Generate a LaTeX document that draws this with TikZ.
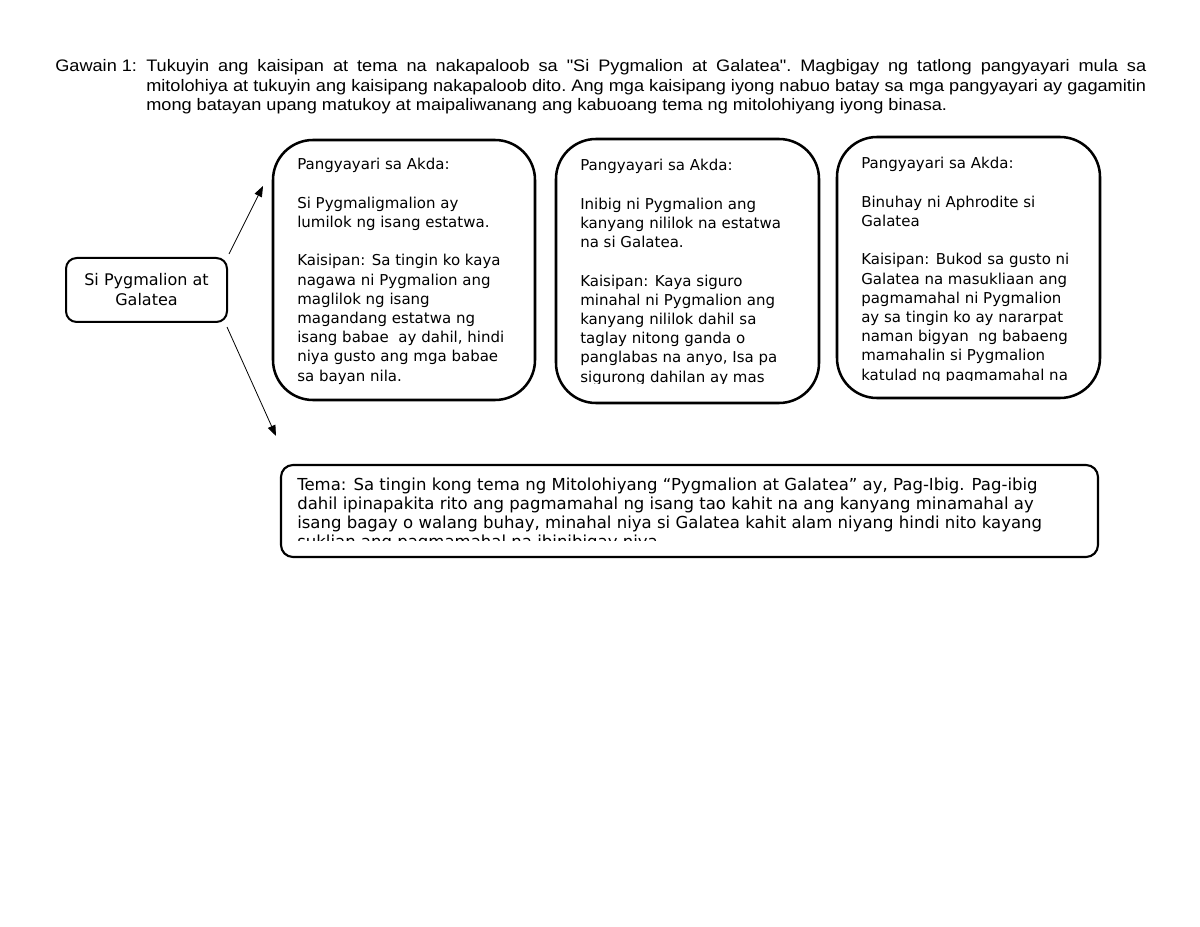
\documentclass[tikz,border=0pt]{standalone}
\usepackage{fontspec}
\usetikzlibrary{arrows.meta,calc}
\newfontfamily\hdrfont[FakeStretch=1.09]{Liberation Sans}
\newfontfamily\dvs{DejaVu Sans}
\begin{document}
\begin{tikzpicture}[x=0.75pt,y=-0.75pt,
  hdr/.style={inner sep=0pt, font=\hdrfont\fontsize{12.5}{14.6}\selectfont\frenchspacing},
  txt/.style={inner sep=0pt, font=\dvs\fontsize{11.25}{14.4}\selectfont},
  ttxt/.style={inner sep=0pt, font=\dvs\fontsize{12.4}{14.4}\selectfont},
  evbox/.style={draw, line width=1.9pt, rounded corners=30pt, inner sep=0pt},
  rootbox/.style={draw, line width=1.5pt, rounded corners=8pt, inner sep=0pt, align=center,
     font=\dvs\fontsize{12}{15}\selectfont},
  temabox/.style={draw, line width=1.6pt, rounded corners=9pt, inner sep=0pt},
  arr/.style={line width=0.6pt, -{Triangle[length=8pt,width=6pt]}}]
\fill[white] (0,0) rectangle (1200,927);
\useasboundingbox (0,0) rectangle (1200,927);

% header
\node[hdr, anchor=base west] (gw) at (55,72) {Gawain 1:};
\node[hdr, anchor=base west] (inst) at (146,72) {\parbox[t]{750pt}{Tukuyin ang kaisipan at tema na nakapaloob sa "Si Pygmalion at Galatea". Magbigay ng tatlong pangyayari mula sa\linebreak mitolohiya at tukuyin ang kaisipang nakapaloob dito. Ang mga kaisipang iyong nabuo batay sa mga pangyayari ay gagamitin\linebreak mong batayan upang matukoy at maipaliwanang ang kabuoang tema ng mitolohiyang iyong binasa.}};

% root
\node[rootbox, minimum width={161*0.75pt}, minimum height={64*0.75pt}] (root) at (146.5,290) {Si Pygmalion at\\Galatea};

% event boxes
\node[evbox, minimum width={262*0.75pt}, minimum height={260*0.75pt}] (e1) at (404,270) {};
\node[evbox, minimum width={263*0.75pt}, minimum height={264*0.75pt}] (e2) at (687.5,271) {};
\node[evbox, minimum width={263*0.75pt}, minimum height={261*0.75pt}] (e3) at (968.5,267.5) {};
\node[temabox, minimum width={817*0.75pt}, minimum height={92*0.75pt}] (tema) at (689.5,511) {};

% arrows
\coordinate (tip1) at (263,186);
\coordinate (tip2) at (276,436);
\draw[arr] (root.north east) ++(1,-3) -- (tip1);
\draw[arr] (root.south east) ++(-1,4) -- (tip2);

% texts
\node[txt, anchor=base west] (t1) at (297,170) {\parbox[t]{400pt}{\raggedright
Pangyayari sa Akda:\\[14.4pt]
Si Pygmaligmalion ay\\
lumilok ng isang estatwa.\\[14.4pt]
Kaisipan: Sa tingin ko kaya\\
nagawa ni Pygmalion ang\\
maglilok ng isang\\
magandang estatwa ng\\
isang babae\ \ ay dahil, hindi\\
niya gusto ang mga babae\\
sa bayan nila.}};

\begin{scope}
\clip (e2.north west) rectangle ([yshift=15.75pt]e2.south east);
\node[txt, anchor=base west] (t2) at (580,171) {\parbox[t]{400pt}{\raggedright
Pangyayari sa Akda:\\[14.4pt]
Inibig ni Pygmalion ang\\
kanyang nililok na estatwa\\
na si Galatea.\\[14.4pt]
Kaisipan: Kaya siguro\\
minahal ni Pygmalion ang\\
kanyang nililok dahil sa\\
taglay nitong ganda o\\
panglabas na anyo, Isa pa\\
sigurong dahilan ay mas\\
mahal niya ang kanyang gawa}};
\end{scope}

\begin{scope}
\clip (e3.north west) rectangle ([yshift=14.25pt]e3.south east);
\node[txt, anchor=base west] (t3) at (861,169) {\parbox[t]{400pt}{\raggedright
Pangyayari sa Akda:\\[14.4pt]
Binuhay ni Aphrodite si\\
Galatea\\[14.4pt]
Kaisipan: Bukod sa gusto ni\\
Galatea na masukliaan ang\\
pagmamahal ni Pygmalion\\
ay sa tingin ko ay nararpat\\
naman bigyan\ \ ng babaeng\\
mamahalin si Pygmalion\\
katulad ng pagmamahal na}};
\end{scope}

\begin{scope}
\clip (tema.north west) rectangle ([yshift=13.5pt]tema.south east);
\node[ttxt, anchor=base west] (t4) at (297,490) {\parbox[t]{800pt}{\raggedright
Tema: Sa tingin kong tema ng Mitolohiyang “Pygmalion at Galatea” ay, Pag-Ibig. Pag-ibig\\
dahil ipinapakita rito ang pagmamahal ng isang tao kahit na ang kanyang minamahal ay\\
isang bagay o walang buhay, minahal niya si Galatea kahit alam niyang hindi nito kayang\\
suklian ang pagmamahal na ibinibigay niya.}};
\end{scope}
\end{tikzpicture}
\end{document}
